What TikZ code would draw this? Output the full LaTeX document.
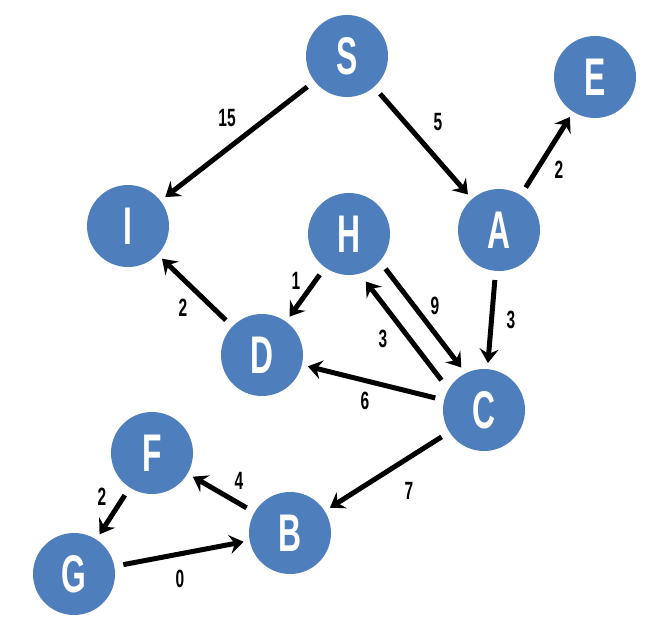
\documentclass[tikz,border=0pt]{standalone}
\usepackage{fontspec}
\newfontfamily\nodefont[FakeStretch=0.6]{Liberation Sans}
\newfontfamily\lblfont[FakeStretch=0.62]{Liberation Sans}
\usetikzlibrary{arrows.meta}
\definecolor{nodeblue}{RGB}{79,126,189}
\tikzset{
  x=1pt, y=-1pt,
  vert/.style={circle, fill=nodeblue, minimum size=82pt, inner sep=0pt,
    text=white, font=\nodefont\bfseries\fontsize{53}{53}\selectfont},
  lbl/.style={inner sep=0pt, text=black, font=\lblfont\bfseries\fontsize{25}{25}\selectfont},
  arr/.style={line width=5pt, -{Stealth[length=14pt,width=19pt,inset=5pt]},
    shorten <=9pt, shorten >=6pt},
}
\begin{document}
\begin{tikzpicture}
\useasboundingbox (0,0) rectangle (663,636);
\node[vert] (S) at (347,56) {S};
\node[vert] (E) at (595,77) {E};
\node[vert] (I) at (128,226) {I};
\node[vert] (H) at (349,234) {H};
\node[vert] (A) at (499,230) {A};
\node[vert] (D) at (262,355) {D};
\node[vert] (C) at (484,410) {C};
\node[vert] (F) at (152,453) {F};
\node[vert] (B) at (290,533) {B};
\node[vert] (G) at (74,574) {G};

\draw[arr] (S) -- (I);
\draw[arr] (S) -- (A);
\draw[arr] (A) -- (E);
\draw[arr] (A) -- (C);
\draw[arr] (H) -- (D);
\draw[arr, transform canvas={shift={(6,-5)}}] (H) -- (C);
\draw[arr, transform canvas={shift={(-12,10)}}] (C) -- (H);
\draw[arr] (C) -- (D);
\draw[arr] (D) -- (I);
\draw[arr] (C) -- (B);
\draw[arr] (B) -- (F);
\draw[arr] (F) -- (G);
\draw[arr] (G) -- (B);

\node[lbl] (lSI) at (227,118) {15};
\node[lbl] (lSA) at (438,122) {5};
\node[lbl] (lAE) at (559,170) {2};
\node[lbl] (lAC) at (511,320) {3};
\node[lbl] (lHD) at (296,281) {1};
\node[lbl] (lHC) at (435,306) {9};
\node[lbl] (lCH) at (383,339) {3};
\node[lbl] (lCD) at (365,401) {6};
\node[lbl] (lDI) at (183,308) {2};
\node[lbl] (lCB) at (409,491) {7};
\node[lbl] (lBF) at (239,481) {4};
\node[lbl] (lFG) at (102,497) {2};
\node[lbl] (lGB) at (180,579) {0};
\end{tikzpicture}
\end{document}
